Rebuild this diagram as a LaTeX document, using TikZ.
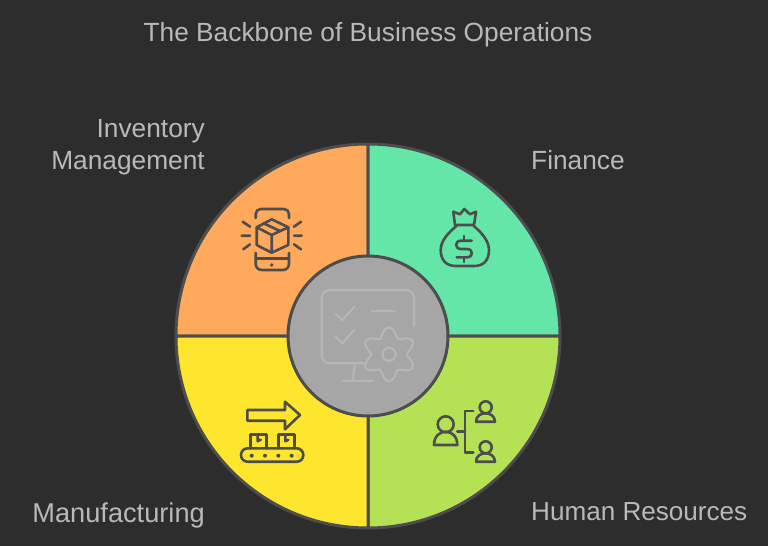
\documentclass[tikz,border=0pt]{standalone}
\usepackage{fontspec}
\setmainfont{Liberation Sans}
\usepackage{xcolor}
\definecolor{pagegrey}{HTML}{2D2D2D}
\definecolor{rimgrey}{HTML}{4D4D4D}
\definecolor{labelgrey}{HTML}{B9B9B9}
\definecolor{hubgrey}{HTML}{A6A6A6}
\definecolor{hubline}{HTML}{B6B6B6}
\definecolor{invorange}{HTML}{FEA95C}
\definecolor{finmint}{HTML}{63E6A8}
\definecolor{manyellow}{HTML}{FFE62E}
\definecolor{hrlime}{HTML}{B5E254}

\begin{document}
\begin{tikzpicture}[x=1pt,y=-1pt]
    \tikzset{
        label_text/.style={text=labelgrey, inner sep=0pt, font=\fontsize{26.3}{32}\selectfont},
        sector/.style={draw=rimgrey, line width=3pt, line join=round},
        icon/.style={draw=rimgrey, line width=2.6pt, line cap=round, line join=round},
        hub_icon/.style={draw=hubline, line width=2.2pt, line cap=round, line join=round}
    }
    \fill[pagegrey] (0,0) rectangle (768,546);
    \useasboundingbox (0,0) rectangle (768,546);

    % sectors
    \draw[sector, fill=invorange] (368,336) -- (176,336) arc[start angle=180, end angle=90, radius=192pt] -- cycle;
    \draw[sector, fill=finmint] (368,336) -- (368,144) arc[start angle=90, end angle=0, radius=192pt] -- cycle;
    \draw[sector, fill=hrlime] (368,336) -- (560,336) arc[start angle=0, end angle=-90, radius=192pt] -- cycle;
    \draw[sector, fill=manyellow] (368,336) -- (368,528) arc[start angle=-90, end angle=-180, radius=192pt] -- cycle;
    \draw[sector, fill=hubgrey] (368,336) circle[radius=80pt];

    % labels
    \node[label_text] (title) at (368,35) {The Backbone of Business Operations};
    \node[label_text, anchor=east, align=right] (inventory) at (205,147) {Inventory\\Management};
    \node[label_text, anchor=west] (finance) at (531,160) {Finance};
    \node[label_text, anchor=east, font=\fontsize{27.2}{32}\selectfont] (manufacturing) at (205,515) {Manufacturing};
    \node[label_text, anchor=west, font=\fontsize{26.1}{32}\selectfont] (people) at (531,512) {Human Resources};

    % phone with parcel
    \draw[icon] (255.7,218) -- (255.7,214) arc[start angle=180, end angle=90, radius=5pt] -- (284,209) arc[start angle=90, end angle=0, radius=5pt] -- (289,218);
    \draw[icon] (255.7,253) -- (255.7,264) arc[start angle=180, end angle=270, radius=6pt] -- (283,270) arc[start angle=270, end angle=360, radius=6pt] -- (289,253);
    \draw[icon] (255.7,258.5) -- (289,258.5);
    \fill[rimgrey] (271.7,265) circle[radius=1.8pt];
    \draw[icon] (271.7,219.3) -- (288.3,227.3) -- (288.3,245) -- (271.7,252.7) -- (256.7,245) -- (256.7,227.3) -- cycle;
    \draw[icon] (256.7,227.3) -- (271.7,235) -- (288.3,227.3) (271.7,235) -- (271.7,252.7);
    \draw[icon] (264,223.5) -- (280,231);
    \draw[icon] (242.7,221.7) -- (250,226.7) (241.7,235.7) -- (250,235.7) (243.3,249.3) -- (250,244.3);
    \draw[icon] (301,221.7) -- (294,226.7) (301.7,235.7) -- (294,235.7) (301,249.3) -- (294,244.3);

    % money bag
    \draw[icon] (455,225) -- (453.3,211.7) -- (460,214.3) -- (464.3,209) -- (470,214.3) -- (476,211.7) -- (474,225) -- cycle;
    \draw[icon] (456.7,225.7) .. controls (448,233) and (440.7,241) .. (440.7,250) .. controls (440.7,261) and (447,266) .. (456,266) -- (474,266) .. controls (483,266) and (489,261) .. (489,250) .. controls (489,241) and (482,233) .. (473.5,225.7);
    \draw[icon] (471.7,240.7) -- (461,240.7) .. controls (454.5,240.7) and (454.5,249) .. (461,249) -- (467,249) .. controls (473.5,249) and (473.5,257.3) .. (467,257.3) -- (456.7,257.3);
    \draw[icon] (464,236) -- (464,240.7) (464,257.3) -- (464,262);

    % conveyor
    \draw[icon] (247.3,410) -- (285,410) -- (285,401.7) -- (300,415) -- (285,429.3) -- (285,420.7) -- (247.3,420.7) -- cycle;
    \draw[icon, rounded corners=6.6pt] (241,448.3) rectangle (303.3,461.7);
    \foreach \dotx in {251.7,265,278.3,291.7}
        \fill[rimgrey] (\dotx,455.7) circle[radius=2pt];
    \foreach \boxx in {250.7,278.3} {
        \draw[icon] (\boxx,448.3) -- (\boxx,434.3) -- ++(16,0) -- ++(0,14);
        \draw[icon] (\boxx+7,434.3) -- ++(0,7) -- ++(3,-1.5);
    }

    % people
    \draw[icon] (445.7,424.3) circle[radius=8pt];
    \draw[icon] (434,445) .. controls (434,436) and (440,431.7) .. (445.7,431.7) .. controls (451.5,431.7) and (457.3,436) .. (457.3,445) -- cycle;
    \draw[icon] (457.3,431.7) -- (465,431.7);
    \draw[icon] (473.3,411) -- (465,411) -- (465,452.7) -- (473.3,452.7);
    \foreach \persony in {0,40} {
        \draw[icon] (485.7,407.3+\persony) circle[radius=6pt];
        \draw[icon] (476,421.7+\persony) .. controls (476,416+\persony) and (481,413.3+\persony) .. (485.7,413.3+\persony) .. controls (490,413.3+\persony) and (495,416+\persony) .. (495,421.7+\persony) -- cycle;
    }

    % hub
    \draw[hub_icon] (414,326) -- (414,298) arc[start angle=0, end angle=90, radius=8pt] -- (329.7,290) arc[start angle=90, end angle=180, radius=8pt] -- (321.7,355.3) arc[start angle=180, end angle=270, radius=8pt] -- (363,363.3);
    \draw[hub_icon] (355,363.3) -- (352.7,381) (343.3,381) -- (372.7,381);
    \draw[hub_icon] (335.7,314.3) -- (342.3,320) -- (354.3,306.7);
    \draw[hub_icon] (335.7,336.7) -- (342.3,343.3) -- (354.3,330);
    \draw[hub_icon] (371.7,311.3) -- (395,311.3);
    \draw[hub_icon] (389,354.3) circle[radius=6.5pt];
    \draw[hub_icon] plot[smooth cycle, samples=72, domain=0:355, variable=\gearang] ({389+(22.5+4.5*cos(6*\gearang))*sin(\gearang)},{354.3-(22.5+4.5*cos(6*\gearang))*cos(\gearang)});
\end{tikzpicture}
\end{document}
